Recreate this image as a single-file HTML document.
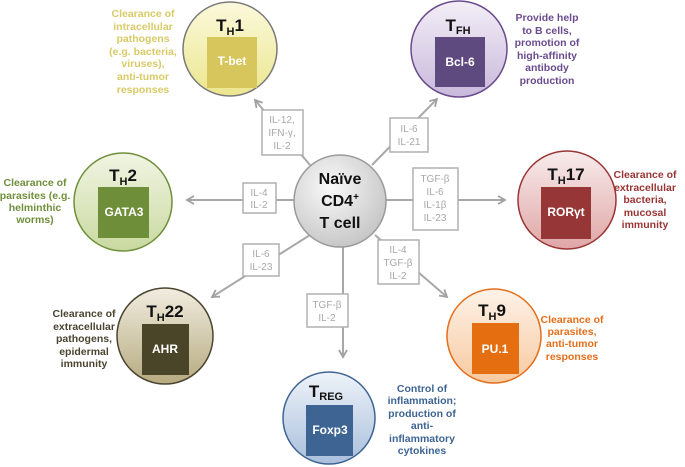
<!DOCTYPE html>
<html><head><meta charset="utf-8"><style>
html,body{margin:0;padding:0;background:#fff;}
svg{display:block;font-family:"Liberation Sans",Arial,sans-serif;}
.d{font-size:10.5px;font-weight:bold;text-anchor:middle;}
.c{font-size:10px;fill:#a8a8a8;text-anchor:middle;}
.t{font-size:17px;font-weight:bold;text-anchor:middle;fill:#111;}
.b{font-size:12px;font-weight:bold;fill:#fff;text-anchor:middle;}
</style></head><body>
<svg width="685" height="467" viewBox="0 0 685 467" xmlns="http://www.w3.org/2000/svg">
<defs>
<marker id="ah" markerWidth="10" markerHeight="10" refX="8" refY="5" orient="auto" markerUnits="userSpaceOnUse"><path d="M1,1 L8,5 L1,9" fill="none" stroke="#a0a0a0" stroke-width="1.8"/></marker>
<linearGradient id="g1" x1="0" y1="0" x2="0" y2="1"><stop offset="0" stop-color="#fbf9dc"/><stop offset="1" stop-color="#ece68e"/></linearGradient>
<linearGradient id="g2" x1="0" y1="0" x2="0" y2="1"><stop offset="0" stop-color="#f3eef7"/><stop offset="1" stop-color="#c9b9db"/></linearGradient>
<linearGradient id="g3" x1="0" y1="0" x2="0" y2="1"><stop offset="0" stop-color="#f1f5e3"/><stop offset="1" stop-color="#c9d9a0"/></linearGradient>
<linearGradient id="g4" x1="0" y1="0" x2="0" y2="1"><stop offset="0" stop-color="#f8ecec"/><stop offset="1" stop-color="#e0a6a6"/></linearGradient>
<linearGradient id="g5" x1="0" y1="0" x2="0" y2="1"><stop offset="0" stop-color="#f1ede0"/><stop offset="1" stop-color="#b6aa80"/></linearGradient>
<linearGradient id="g6" x1="0" y1="0" x2="0" y2="1"><stop offset="0" stop-color="#eef3f9"/><stop offset="1" stop-color="#a9bfdc"/></linearGradient>
<linearGradient id="g7" x1="0" y1="0" x2="0" y2="1"><stop offset="0" stop-color="#fdf2e8"/><stop offset="1" stop-color="#f8caa0"/></linearGradient>
<radialGradient id="gc" cx="0.4" cy="0.35" r="0.7"><stop offset="0" stop-color="#fafafa"/><stop offset="1" stop-color="#c4c4c4"/></radialGradient>
</defs>
<g stroke="#a8a8a8" stroke-width="2" fill="none">
<line x1="310" y1="165" x2="255" y2="100" marker-end="url(#ah)"/>
<line x1="372" y1="165" x2="437" y2="99" marker-end="url(#ah)"/>
<line x1="296" y1="200" x2="187" y2="200" marker-end="url(#ah)"/>
<line x1="385" y1="200" x2="505" y2="200" marker-end="url(#ah)"/>
<line x1="310" y1="235" x2="212" y2="297" marker-end="url(#ah)"/>
<line x1="343" y1="246" x2="343" y2="357" marker-end="url(#ah)"/>
<line x1="375" y1="235" x2="447" y2="297" marker-end="url(#ah)"/>
</g>
<g fill="#fff" stroke="#b0b0b0" stroke-width="1.5">
<rect x="262" y="110" width="41" height="45"/>
<rect x="243" y="183" width="33" height="30"/>
<rect x="390" y="118" width="38" height="34"/>
<rect x="413" y="168" width="45" height="62"/>
<rect x="243" y="244" width="36" height="32"/>
<rect x="378" y="240" width="41" height="44"/>
<rect x="307" y="294" width="41" height="33"/>
</g>
<g class="c">
<text x="282" y="123" class="c">IL-12,</text><text x="282" y="136" class="c">IFN-γ,</text><text x="282" y="149" class="c">IL-2</text>
<text x="259" y="196" class="c">IL-4</text><text x="259" y="208" class="c">IL-2</text>
<text x="409" y="132" class="c">IL-6</text><text x="409" y="145" class="c">IL-21</text>
<text x="435" y="182" class="c">TGF-β</text><text x="435" y="195" class="c">IL-6</text><text x="435" y="208" class="c">IL-1β</text><text x="435" y="221" class="c">IL-23</text>
<text x="261" y="257" class="c">IL-6</text><text x="261" y="270" class="c">IL-23</text>
<text x="398" y="253" class="c">IL-4</text><text x="398" y="266" class="c">TGF-β</text><text x="398" y="279" class="c">IL-2</text>
<text x="327" y="308" class="c">TGF-β</text><text x="327" y="321" class="c">IL-2</text>
</g>
<circle cx="340" cy="201" r="46" fill="url(#gc)" stroke="#9a9a9a" stroke-width="1.5"/>
<text class="t" x="340" y="184" style="font-size:16px">Naïve</text>
<text class="t" x="340" y="206" style="font-size:16px">CD4<tspan font-size="10" dy="-6">+</tspan></text>
<text class="t" x="340" y="228" style="font-size:16px">T cell</text>

<!-- TH1 -->
<circle cx="230" cy="49" r="47" fill="url(#g1)" stroke="#7a7a7a" stroke-width="1.5"/>
<rect x="207" y="37" width="50" height="51" fill="#d6c65c"/>
<text class="t" x="230" y="31">T<tspan font-size="11" dy="4">H</tspan><tspan dy="-4">1</tspan></text>
<text class="b" x="232" y="65">T-bet</text>
<g class="d" fill="#d8ca66"><text x="143" y="17">Clearance of</text><text x="143" y="30">intracellular</text><text x="143" y="42">pathogens</text><text x="143" y="55">(e.g. bacteria,</text><text x="143" y="67">viruses),</text><text x="143" y="80">anti-tumor</text><text x="143" y="93">responses</text></g>

<!-- TFH -->
<circle cx="459" cy="49" r="48" fill="url(#g2)" stroke="#6a4c8c" stroke-width="1.5"/>
<rect x="435" y="37" width="50" height="50" fill="#5f4a80"/>
<text class="t" x="458" y="31">T<tspan font-size="11" dy="3">FH</tspan></text>
<text class="b" x="460" y="66">Bcl-6</text>
<g class="d" fill="#6b4b8e"><text x="547" y="21">Provide help</text><text x="547" y="34">to B cells,</text><text x="547" y="46">promotion of</text><text x="547" y="59">high-affinity</text><text x="547" y="71">antibody</text><text x="547" y="84">production</text></g>

<!-- TH2 -->
<circle cx="123" cy="202" r="49" fill="url(#g3)" stroke="#6f8f3a" stroke-width="1.5"/>
<rect x="98" y="187" width="51" height="51" fill="#6e8e3a"/>
<text class="t" x="123" y="181">T<tspan font-size="11" dy="4">H</tspan><tspan dy="-4">2</tspan></text>
<text class="b" x="124" y="216">GATA3</text>
<g class="d" fill="#6f8f3a"><text x="35" y="186">Clearance of</text><text x="35" y="199">parasites (e.g.</text><text x="35" y="211">helminthic</text><text x="35" y="223">worms)</text></g>

<!-- TH17 -->
<circle cx="567" cy="200" r="49" fill="url(#g4)" stroke="#9a3535" stroke-width="1.5"/>
<rect x="541" y="187" width="50" height="52" fill="#963636"/>
<text class="t" x="566" y="180">T<tspan font-size="11" dy="4">H</tspan><tspan dy="-4">17</tspan></text>
<text class="b" x="566" y="216">RORγt</text>
<g class="d" fill="#9a3535"><text x="645" y="178">Clearance of</text><text x="645" y="191">extracellular</text><text x="645" y="203">bacteria,</text><text x="645" y="216">mucosal</text><text x="645" y="228">immunity</text></g>

<!-- TH22 -->
<circle cx="165" cy="336" r="48" fill="url(#g5)" stroke="#4a4530" stroke-width="1.5"/>
<rect x="142" y="324" width="47" height="51" fill="#4a4528"/>
<text class="t" x="165" y="317">T<tspan font-size="11" dy="4">H</tspan><tspan dy="-4">22</tspan></text>
<text class="b" x="165" y="353">AHR</text>
<g class="d" fill="#4a4530"><text x="84" y="317">Clearance of</text><text x="84" y="330">extracellular</text><text x="84" y="342">pathogens,</text><text x="84" y="355">epidermal</text><text x="84" y="367">immunity</text></g>

<!-- TREG -->
<circle cx="329" cy="418" r="46" fill="url(#g6)" stroke="#3e6494" stroke-width="1.5"/>
<rect x="306" y="405" width="47" height="51" fill="#3e6494"/>
<text class="t" x="326" y="397">T<tspan font-size="11" dy="3">REG</tspan></text>
<text class="b" x="330" y="434">Foxp3</text>
<g class="d" fill="#3e6494"><text x="422" y="392">Control of</text><text x="422" y="404">inflammation;</text><text x="422" y="417">production of</text><text x="422" y="429">anti-</text><text x="422" y="442">inflammatory</text><text x="422" y="454">cytokines</text></g>

<!-- TH9 -->
<circle cx="494" cy="336" r="47" fill="url(#g7)" stroke="#e56e1a" stroke-width="1.5"/>
<rect x="472" y="323" width="47" height="51" fill="#e56e10"/>
<text class="t" x="492" y="316">T<tspan font-size="11" dy="4">H</tspan><tspan dy="-4">9</tspan></text>
<text class="b" x="495" y="353">PU.1</text>
<g class="d" fill="#e56e1a"><text x="572" y="323">Clearance of</text><text x="572" y="335">parasites,</text><text x="572" y="347">anti-tumor</text><text x="572" y="360">responses</text></g>
</svg>
</body></html>
